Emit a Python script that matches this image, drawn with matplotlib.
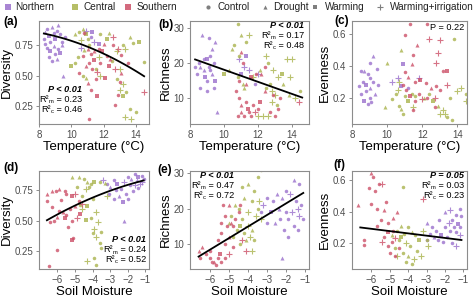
import numpy as np
import matplotlib
matplotlib.use("Agg")
import matplotlib.pyplot as plt
from matplotlib.lines import Line2D

plt.rcParams["font.family"] = "Liberation Sans"

#
# DATA
#

regions = ["Northern", "Central", "Southern"]
region_colors = {"N": "#9a70cc", "C": "#a9b34c", "S": "#cc5068"}
treatments = ["Control", "Drought", "Warming", "Warming+irrigation"]
treatment_markers = ["o", "^", "s", "+"]

# (a) diversity vs temperature
div_temp_x = [8.3, 8.4, 8.5, 8.6, 8.7, 8.8, 8.9, 9.0, 9.1, 9.2, 9.3, 9.4, 8.5, 8.7, 8.9, 9.0, 9.2, 9.4, 8.6, 8.8,
              9.1, 9.3, 8.4, 9.6, 9.5, 10.9, 11.3, 11.4, 11.7, 11.2, 10.6,
              10.2, 10.5, 10.7, 10.9, 11.0, 10.6, 11.1, 10.8, 10.4, 10.0, 10.7, 10.9, 11.5, 11.8, 12.5, 12.8, 13.2,
              13.6, 13.8, 14.2, 14.5, 13.2, 13.0, 13.4, 13.2, 13.6, 13.3, 13.7, 14.0, 12.8, 11.7, 12.3, 11.8, 12.2,
              13.3, 13.0, 10.2,
              10.8, 11.0, 11.2, 11.4, 11.1, 10.9, 11.3, 11.6, 11.8, 11.9, 12.2, 12.4, 12.6, 12.9, 13.1, 12.3, 12.7,
              11.5, 11.0, 10.5, 11.2, 11.6, 12.9, 12.7, 11.1, 13.1, 12.6, 12.0, 11.7, 14.5, 13.0, 11.4, 10.7, 12.1,
              13.5]
div_temp_y = [0.80, 0.86, 0.88, 0.83, 0.78, 0.90, 0.85, 0.80, 0.87, 0.92, 0.84, 0.78, 0.73, 0.70, 0.74, 0.68,
              0.72, 0.75, 0.65, 0.62, 0.64, 0.69, 0.76, 0.82, 0.50, 0.87, 0.86, 0.78, 0.76, 0.82, 0.73,
              0.84, 0.86, 0.88, 0.84, 0.80, 0.79, 0.75, 0.71, 0.65, 0.58, 0.50, 0.48, 0.55, 0.50, 0.62, 0.70, 0.75,
              0.82, 0.77, 0.78, 0.61, 0.43, 0.38, 0.36, 0.33, 0.22, 0.16, 0.14, 0.20, 0.47, 0.65, 0.85, 0.84, 0.80,
              0.72, 0.55, 0.60,
              0.85, 0.72, 0.68, 0.63, 0.60, 0.58, 0.55, 0.53, 0.60, 0.70, 0.66, 0.64, 0.75, 0.72, 0.67, 0.58, 0.55,
              0.47, 0.44, 0.52, 0.38, 0.33, 0.34, 0.26, 0.14, 0.52, 0.82, 0.76, 0.72, 0.36, 0.45, 0.70, 0.66, 0.48,
              0.60]
div_temp_region = "N" * 31 + "C" * 37 + "S" * 35
div_temp_trt = ("o^oso^oso^ooos^oo^oo^soo^+s+so+"
                "^o^so+o^oso^o+o+o^oso++oso++oo+^os++o"
                "o^oso^o+oso^o+os+o^oosooo^+^o+o^oso")

# (b) richness vs temperature
rich_temp_x = [8.7, 9.1, 9.5, 9.3, 9.2, 9.0, 8.8, 9.4, 8.5, 9.1, 8.6, 9.2, 8.4, 9.3, 8.9, 9.0, 8.6, 9.4, 9.0, 9.6,
               8.3, 8.8, 9.5, 10.9, 11.2, 11.5, 11.8, 11.3, 12.0, 11.0,
               10.8, 10.5, 10.6, 10.9, 11.0, 11.3, 11.5, 10.3, 10.0, 11.1, 11.2, 10.8, 12.5, 12.6, 12.9, 13.4, 13.2,
               13.5, 13.9, 14.0, 13.7, 14.5, 14.2, 13.8, 12.7, 12.8, 13.0, 12.5, 12.8, 13.1, 12.0, 12.3, 12.6, 11.7,
               12.1,
               10.8, 11.0, 11.2, 11.4, 11.5, 11.7, 11.8, 11.3, 11.0, 10.9, 11.6, 12.0, 12.1, 12.7, 13.0, 13.2, 12.4,
               11.9, 12.2, 12.4, 11.1, 11.0, 10.9, 11.3, 11.6, 13.3, 14.4, 10.7, 12.9]
rich_temp_y = [28, 27, 26, 24, 22, 21, 21, 20, 20, 19, 19, 18, 17, 17, 16, 15, 13, 13, 12, 6,
               19, 18, 15, 21, 19, 18, 14, 22, 17, 17,
               31, 24, 25, 22, 28, 26, 28, 18, 17, 14, 13, 16, 22, 20, 18, 17, 16,
               14, 16, 21, 21, 12, 10, 11, 14, 12, 11, 13, 9, 8, 5, 5, 5, 16,
               18,
               5, 6, 5, 7, 6, 8, 6, 9, 8, 10, 5, 7, 9, 6, 5, 7, 12,
               17, 17, 19, 20, 23, 15, 14, 16, 10, 9, 12, 11]
rich_temp_region = "N" * 30 + "C" * 35 + "S" * 29
rich_temp_trt = ("^o^^osoooo^oo^soooo^o^s+++os+s"
                 "o^oo^o+^s^^o+o+s+^+++o+^o++o+o++++^"
                 "o^osoo+o^ooosooo^o^oo^o^so+oo")

# (c) evenness vs temperature
even_temp_x = [8.5, 8.7, 8.9, 9.2, 9.0, 9.4, 8.4, 8.6, 8.8, 9.0, 9.2, 8.5, 8.8, 9.0, 9.3, 9.1, 8.7, 9.5, 9.0, 8.9,
               10.6, 10.3, 10.8, 11.2, 11.8, 10.9,
               10.8, 10.0, 9.9, 10.3, 10.5, 10.7, 10.8, 10.6, 11.0, 11.2, 11.4, 10.9, 11.5, 12.4, 12.6, 12.9, 13.0,
               13.2, 13.4, 13.7, 13.3, 13.8, 14.2, 14.0, 14.5, 14.5, 13.6, 12.1, 11.6, 10.7,
               11.3, 12.3, 11.0, 11.7, 12.4, 13.0, 11.5, 12.9, 12.8, 13.2, 11.4, 11.0, 11.2, 11.6, 11.9, 12.2, 12.5,
               12.8, 13.0, 13.4, 11.1, 11.3, 11.6, 11.8, 12.0, 12.3, 12.7, 11.5, 10.9, 12.7, 13.4]
even_temp_y = [0.37, 0.37, 0.35, 0.46, 0.42, 0.38, 0.27, 0.30, 0.28, 0.26, 0.30, 0.22, 0.24, 0.20, 0.22, 0.17,
               0.18, 0.28, 0.32, 0.16, 0.32, 0.30, 0.27, 0.26, 0.32, 0.41,
               0.50, 0.42, 0.14, 0.19, 0.22, 0.15, 0.13, 0.25, 0.21, 0.18, 0.22, 0.10, 0.14, 0.22, 0.18, 0.15, 0.10,
               0.12, 0.08, 0.06, 0.10, 0.57, 0.26, 0.24, 0.22, 0.18, 0.20, 0.20, 0.21, 0.30,
               0.66, 0.66, 0.59, 0.53, 0.57, 0.56, 0.47, 0.48, 0.42, 0.37, 0.41, 0.36, 0.33, 0.30, 0.31, 0.29, 0.26,
               0.27, 0.25, 0.28, 0.25, 0.21, 0.18, 0.22, 0.19, 0.20, 0.14, 0.12, 0.28, 0.20, 0.37]
even_temp_region = "N" * 26 + "C" * 30 + "S" * 31
even_temp_trt = ("o^o^oooos^oooo^osooo++so+s"
                 "^^^ooo^+osoo+os^++oo+o++o+o^o+"
                 "ooo^++o++o^o^oso^oo+osoo+oooo+s")

# (d) diversity vs soil moisture
div_moist_x = [-3.2, -3.0, -2.8, -2.6, -2.4, -2.2, -2.0, -1.8, -1.6, -1.4, -1.2, -1.5, -1.3, -1.9, -2.1, -2.5,
               -2.8, -3.1, -1.7, -1.4, -2.3, -2.0, -1.2, -2.2, -1.6, -2.7, -3.4, -1.1,
               -5.2, -4.8, -4.5, -4.3, -4.1, -3.9, -4.2, -4.4, -3.6, -3.3, -4.6, -4.0, -4.3, -4.6, -3.8, -4.1, -4.4,
               -3.7, -3.9, -4.0, -3.8, -3.5, -3.6, -3.9, -3.8, -4.3, -3.5, -4.7, -3.2, -4.9,
               -6.6, -6.3, -6.1, -5.9, -5.6, -5.5, -5.2, -6.3, -5.9, -5.7, -5.5, -5.3, -5.0, -4.8, -4.6, -6.0, -5.6,
               -5.2, -4.9, -6.4, -6.2, -5.1, -5.2, -6.0, -6.5, -5.4, -4.7, -6.6, -5.0, -5.8]
div_moist_y = [0.80, 0.78, 0.83, 0.80, 0.76, 0.82, 0.86, 0.84, 0.88, 0.86, 0.87, 0.83, 0.80, 0.79, 0.72, 0.70,
               0.68, 0.72, 0.74, 0.77, 0.65, 0.68, 0.82, 0.50, 0.79, 0.75, 0.83, 0.84,
               0.86, 0.86, 0.84, 0.82, 0.80, 0.82, 0.78, 0.76, 0.82, 0.81, 0.70, 0.68, 0.62, 0.60, 0.57, 0.52, 0.51,
               0.49, 0.43, 0.40, 0.37, 0.41, 0.32, 0.20, 0.14, 0.17, 0.28, 0.63, 0.70, 0.78,
               0.72, 0.74, 0.74, 0.76, 0.74, 0.72, 0.70, 0.61, 0.58, 0.57, 0.55, 0.60, 0.62, 0.66, 0.64, 0.53, 0.52,
               0.50, 0.52, 0.49, 0.50, 0.36, 0.34, 0.26, 0.13, 0.45, 0.56, 0.66, 0.72, 0.67]
div_moist_region = "N" * 28 + "C" * 30 + "S" * 30
div_moist_trt = ("o^oso+o^oso^+oo^ooooso+^+o+o"
                 "^^o^oso+o^oos++os++o+oooo+oo+o"
                 "^^o^oosoo^oo^o+^so+ooosoooso+o")

# (e) richness vs soil moisture
rich_moist_x = [-1.6, -1.3, -2.0, -2.5, -1.8, -3.0, -2.7, -2.2, -1.5, -1.2, -1.4, -1.7, -2.0, -2.4, -2.8, -1.3,
                -1.9, -2.3, -2.6, -3.0, -1.6, -2.1, -1.4, -1.9, -2.2, -3.3, -3.2, -1.1,
                -3.3, -3.5, -4.0, -4.3, -3.7, -3.4, -3.8, -4.2, -4.5, -4.7, -4.9, -5.0, -4.3, -4.0, -3.8, -3.6, -4.2,
                -3.9, -3.7, -4.1, -4.4, -3.8, -3.3, -4.6, -3.5, -4.0, -4.8, -4.4,
                -6.6, -6.4, -6.2, -6.0, -5.8, -5.6, -5.4, -5.2, -5.0, -4.8, -6.5, -5.9, -5.7, -5.5, -5.2, -5.0, -5.4,
                -5.1, -4.9, -5.2, -5.0, -4.7, -4.5, -4.8, -5.4, -5.3, -4.4, -5.6, -4.3, -4.1, -6.0]
rich_moist_y = [28, 27, 25, 24, 24, 23, 22, 23, 22, 21, 20, 19, 19, 20, 19, 18, 17, 17, 16, 16, 15, 14, 14, 12,
                6, 19, 21, 17,
                31, 29, 27, 26, 25, 22, 22, 23, 20, 21, 18, 16, 17, 15, 14, 18, 13, 12, 11, 11, 10, 8, 17, 14, 20,
                19, 12, 15,
                8, 9, 7, 6, 5, 6, 5, 6, 7, 9, 6, 5, 4, 7, 10, 12, 13, 15, 16, 18, 21, 17, 19, 15, 16, 21, 21, 11,
                11, 8, 8]
rich_moist_region = "N" * 28 + "C" * 28 + "S" * 31
rich_moist_trt = ("^oo^+oo^oo++o^s+oo^ooooo^o+o"
                  "oo^oo+o^o^o^o+^+o+o^o++oo+os"
                  "^^oo^ooo+ooooso^oo^o^ooooooo++o")

# (f) evenness vs soil moisture
even_moist_x = [-3.0, -2.7, -2.5, -2.2, -2.0, -1.8, -1.6, -1.4, -1.2, -1.1, -1.3, -1.5, -1.7, -1.9, -2.1, -2.4,
                -2.6, -2.8, -1.4, -1.2, -1.6, -1.4, -2.0, -1.7, -1.2, -2.3, -3.0,
                -4.3, -4.4, -4.6, -4.2, -4.0, -3.8, -3.6, -3.4, -4.5, -4.1, -3.9, -4.7, -4.3, -4.0, -3.7, -4.1, -3.8,
                -3.5, -4.6, -3.3, -3.0, -2.9, -4.9, -3.2, -4.4,
                -6.0, -5.9, -5.6, -5.4, -6.1, -5.8, -6.7, -6.0, -5.7, -5.3, -5.2, -4.6, -4.8, -5.5, -5.1, -4.8, -5.1,
                -5.3, -4.9, -4.7, -5.1, -5.0, -4.7, -6.4, -6.4, -4.5, -3.2, -5.7, -5.4]
even_moist_y = [0.33, 0.30, 0.28, 0.25, 0.30, 0.33, 0.35, 0.38, 0.42, 0.37, 0.32, 0.30, 0.28, 0.24, 0.21, 0.22,
                0.24, 0.26, 0.27, 0.25, 0.20, 0.18, 0.40, 0.41, 0.30, 0.35, 0.22,
                0.56, 0.31, 0.28, 0.26, 0.30, 0.27, 0.25, 0.22, 0.22, 0.20, 0.18, 0.17, 0.14, 0.12, 0.10, 0.08, 0.07,
                0.15, 0.12, 0.12, 0.22, 0.18, 0.25, 0.28, 0.24,
                0.65, 0.62, 0.58, 0.58, 0.55, 0.53, 0.44, 0.45, 0.42, 0.41, 0.46, 0.40, 0.36, 0.35, 0.33, 0.28, 0.27,
                0.24, 0.21, 0.23, 0.18, 0.14, 0.12, 0.22, 0.19, 0.17, 0.48, 0.31, 0.21]
even_moist_region = "N" * 27 + "C" * 25 + "S" * 29
even_moist_trt = ("^ooso+oooosooooo^oo+o+^+ooo"
                  "o^ooo^oso+ooo^+ooo++o+^+s"
                  "^oo+oo^oo^o^^ooosoo+oooooo+o+")

# fitted model lines
fit_a = ([8.3, 11.5, 14.5], [0.847, 0.71, 0.494])
fit_b = ([8.3, 14.6], [21.0, 10.2])
fit_d = ([-6.6, -4.4, -1.1], [0.505, 0.665, 0.83])
fit_e = ([-6.6, -1.1], [6.4, 24.4])
fit_f = ([-6.6, -1.1], [0.30, 0.22])

# model statistics printed in the panels
stats_a = ("P < 0.01", "0.23", "0.46")
stats_b = ("P < 0.01", "0.17", "0.48")
stats_d = ("P < 0.01", "0.24", "0.52")
stats_e = ("P < 0.01", "0.47", "0.72")
stats_f = ("P = 0.05", "0.03", "0.23")

#
# PLOTTING
#

W, H = 474, 300
fig = plt.figure(figsize=(W / 100, H / 100), dpi=100)
renderer = fig.canvas.get_renderer()
STAT_FS = 6.6


def fx(px):
    return px / W


def fy(py):
    return 1 - py / H


def px_axes(left, top, right, bottom):
    return fig.add_axes([fx(left), fy(bottom), (right - left) / W, (bottom - top) / H])


def draw_points(ax, xs, ys, regs, trts):
    assert len(xs) == len(ys) == len(regs) == len(trts), (len(xs), len(ys), len(regs), len(trts))
    sizes = {"o": 6.5, "^": 8.5, "s": 5.5, "+": 20}
    for x, y, r, t in zip(xs, ys, regs, trts):
        col = region_colors[r]
        if t == "+":
            ax.scatter(x, y, s=sizes[t], marker="+", color=col, linewidths=0.8, alpha=0.8, zorder=2)
        else:
            ax.scatter(x, y, s=sizes[t], marker=t, color=col, linewidths=0, alpha=0.8, zorder=2)


def draw_fit(ax, fit):
    xs, ys = fit
    coef = np.polyfit(xs, ys, len(xs) - 1)
    xx = np.linspace(xs[0], xs[-1], 60)
    ax.plot(xx, np.polyval(coef, xx), color="black", lw=1.3, zorder=3)


def style(ax, xlabel, ylabel, xlim, ylim, xticks, yticks, yfmt):
    ax.set_xlim(xlim)
    ax.set_ylim(ylim)
    ax.set_xticks(xticks)
    ax.set_yticks(yticks)
    ax.set_xticklabels([str(t).replace("-", "\u2212") for t in xticks])
    ax.set_yticklabels([yfmt.format(t) for t in yticks])
    ax.set_xlabel(xlabel, fontsize=9.5, labelpad=1)
    ax.set_ylabel(ylabel, fontsize=9.5, labelpad=1.5)
    for sp in ax.spines.values():
        sp.set_color("#8c8c8c")
        sp.set_linewidth(0.8)
    ax.tick_params(length=2.5, width=0.7, color="#8c8c8c", labelcolor="#4d4d4d", labelsize=7, pad=1.5)


def r2_line(right_px, base_px, sub, value):
    # "R²" + small subscript + " = value", laid out right to left
    t = fig.text(fx(right_px), fy(base_px), " = " + value, ha="right", va="baseline",
                 fontsize=STAT_FS, zorder=4)
    x0 = t.get_window_extent(renderer).x0
    s = fig.text(x0 / W, fy(base_px + 1.2), sub, ha="right", va="baseline", fontsize=4.2, zorder=4)
    x1 = s.get_window_extent(renderer).x0
    fig.text(x1 / W, fy(base_px), "R\u00b2", ha="right", va="baseline", fontsize=STAT_FS, zorder=4)


def stats(right_px, first_base, lines, gap=9.8):
    p, r2m, r2c = lines
    fig.text(fx(right_px), fy(first_base), p, ha="right", va="baseline", fontsize=STAT_FS,
             fontweight="bold", fontstyle="italic", zorder=4)
    r2_line(right_px, first_base + gap, "m", r2m)
    r2_line(right_px, first_base + 2 * gap, "c", r2c)


temp_ticks = [8, 10, 12, 14]
moist_ticks = [-6, -5, -4, -3, -2, -1]

ax_a = px_axes(39, 21, 149, 124)
draw_points(ax_a, div_temp_x, div_temp_y, div_temp_region, div_temp_trt)
draw_fit(ax_a, fit_a)
style(ax_a, "Temperature (\u00b0C)", "Diversity", (8.0, 14.8), (0.10, 0.95), temp_ticks,
      [0.25, 0.50, 0.75], "{:.2f}")
stats(82, 92, stats_a)

ax_b = px_axes(190, 21, 309, 124)
draw_points(ax_b, rich_temp_x, rich_temp_y, rich_temp_region, rich_temp_trt)
draw_fit(ax_b, fit_b)
style(ax_b, "Temperature (\u00b0C)", "Richness", (8.0, 15.0), (2.7, 31.9), temp_ticks, [10, 20, 30], "{:d}")
stats(304, 28, stats_b)

ax_c = px_axes(352, 21, 467, 124)
draw_points(ax_c, even_temp_x, even_temp_y, even_temp_region, even_temp_trt)
style(ax_c, "Temperature (\u00b0C)", "Evenness", (8.0, 14.55), (0.035, 0.68), temp_ticks,
      [0.2, 0.4, 0.6], "{:.1f}")
fig.text(fx(464), fy(29.5), "P = 0.22", ha="right", va="baseline", fontsize=STAT_FS)

ax_d = px_axes(39, 171, 149, 269)
draw_points(ax_d, div_moist_x, div_moist_y, div_moist_region, div_moist_trt)
draw_fit(ax_d, fit_d)
style(ax_d, "Soil Moisture", "Diversity", (-7.05, -0.8), (0.107, 0.907), moist_ticks,
      [0.25, 0.50, 0.75], "{:.2f}")
stats(146, 242.5, stats_d)

ax_e = px_axes(190, 171, 309, 269)
draw_points(ax_e, rich_moist_x, rich_moist_y, rich_moist_region, rich_moist_trt)
draw_fit(ax_e, fit_e)
style(ax_e, "Soil Moisture", "Richness", (-7.05, -0.8), (2.9, 30.6), moist_ticks, [10, 20, 30], "{:d}")
stats(234, 178, stats_e)

ax_f = px_axes(352, 171, 467, 269)
draw_points(ax_f, even_moist_x, even_moist_y, even_moist_region, even_moist_trt)
draw_fit(ax_f, fit_f)
style(ax_f, "Soil Moisture", "Evenness", (-7.05, -0.8), (0.035, 0.66), moist_ticks,
      [0.2, 0.4, 0.6], "{:.1f}")
stats(464, 178, stats_f)

# panel letters
for lab, xp, yp in [("(a)", 3, 22), ("(b)", 158, 25), ("(c)", 334, 21),
                    ("(d)", 3, 168), ("(e)", 157, 170), ("(f)", 333, 165)]:
    fig.text(fx(xp), fy(yp), lab, fontsize=8.5, fontweight="bold", ha="left", va="center")

# legend row: marker centre and text start in pixels
legend_y = 7
region_pos = [(8, 15), (75, 83), (128, 137)]
for (mx, tx), name, key in zip(region_pos, regions, "NCS"):
    fig.add_artist(Line2D([fx(mx)], [fy(legend_y)], transform=fig.transFigure, marker="s", ls="",
                          color=region_colors[key], alpha=0.85, markersize=4.5, markeredgewidth=0))
    fig.text(fx(tx), fy(legend_y), name, fontsize=7.2, ha="left", va="center", color="#222222")

trt_pos = [(208, 217), (265, 273), (315, 325), (380, 390)]
for (mx, tx), name, m in zip(trt_pos, treatments, treatment_markers):
    fig.add_artist(Line2D([fx(mx)], [fy(legend_y)], transform=fig.transFigure, marker=m, ls="",
                          color="#7f7f7f", markersize=5 if m == "+" else 3,
                          markeredgewidth=0.8 if m == "+" else 0))
    fig.text(fx(tx), fy(legend_y), name, fontsize=7.2, ha="left", va="center", color="#222222")

fig.savefig("out.png", dpi=100)
